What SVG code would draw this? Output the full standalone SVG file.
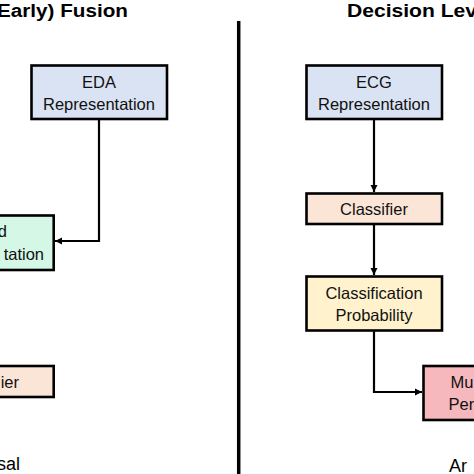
<svg xmlns="http://www.w3.org/2000/svg" width="474" height="474" viewBox="0 0 474 474">
<defs>
<style>
.box{stroke:#000;stroke-width:2.6}
.t{font-family:"Liberation Sans",Arial,sans-serif;font-size:16.5px;fill:#111;text-anchor:middle}
.te{font-family:"Liberation Sans",Arial,sans-serif;font-size:16.5px;fill:#111;text-anchor:end}
.ts{font-family:"Liberation Sans",Arial,sans-serif;font-size:16.5px;fill:#111}
.title{font-family:"Liberation Sans",Arial,sans-serif;font-size:18px;font-weight:bold;fill:#000}
.foot{font-family:"Liberation Sans",Arial,sans-serif;font-size:18px;fill:#000}
.conn{fill:none;stroke:#000;stroke-width:2.2}
</style>
<marker id="ah" markerUnits="userSpaceOnUse" markerWidth="8" markerHeight="8" refX="7" refY="4" orient="auto">
<path d="M0,0.5 L7,4 L0,7.5 Z" fill="#000"/>
</marker>
</defs>
<rect width="474" height="474" fill="#fff"/>

<g id="titles">
<text class="title" x="-3" y="17" textLength="131" lengthAdjust="spacingAndGlyphs">Early) Fusion</text>
<text class="title" x="347" y="17" textLength="130" lengthAdjust="spacingAndGlyphs">Decision Lev</text>
</g>

<g id="divider">
<line x1="238.7" y1="21" x2="238.7" y2="474" stroke="#000" stroke-width="3.5"/>
</g>

<g id="connectors">
<path class="conn" d="M99,119 V241 H55" marker-end="url(#ah)"/>
<path class="conn" d="M374,119 V192" marker-end="url(#ah)"/>
<path class="conn" d="M374,224 V275" marker-end="url(#ah)"/>
<path class="conn" d="M374,331 V392 H422" marker-end="url(#ah)"/>
</g>

<g id="eda">
<rect class="box" x="31.5" y="65.5" width="135.5" height="53.5" fill="#dae3f3"/>
<text class="t" x="99" y="87.5">EDA</text>
<text class="t" x="99" y="110">Representation</text>
</g>

<g id="fused">
<rect class="box" x="-10" y="215.5" width="63.7" height="54.5" fill="#d4f7e6"/>
<text class="te" x="7" y="237">d</text>
<text class="te" x="44" y="259.5">tation</text>
</g>

<g id="classifier-left">
<rect class="box" x="-10" y="366" width="63.7" height="31" fill="#fbe5d6"/>
<text class="te" x="19" y="388">ier</text>
</g>

<g id="ecg">
<rect class="box" x="306.5" y="65.5" width="135.5" height="53.5" fill="#dae3f3"/>
<text class="t" x="374" y="87.5">ECG</text>
<text class="t" x="374" y="110">Representation</text>
</g>

<g id="classifier-right">
<rect class="box" x="306.5" y="193.5" width="135.5" height="30.5" fill="#fbe5d6"/>
<text class="t" x="374" y="215">Classifier</text>
</g>

<g id="probability">
<rect class="box" x="306.5" y="276.5" width="135.5" height="54" fill="#fff2cc"/>
<text class="t" x="374" y="298.5">Classification</text>
<text class="t" x="374" y="321">Probability</text>
</g>

<g id="mu">
<rect class="box" x="423.5" y="366" width="60" height="54" fill="#f6b8bd"/>
<text class="ts" x="450.5" y="388">Mu</text>
<text class="ts" x="448.5" y="410">Per</text>
</g>

<g id="footers">
<text class="foot" x="20" y="470" text-anchor="end">sal</text>
<text class="foot" x="449" y="472">Ar</text>
</g>
</svg>
